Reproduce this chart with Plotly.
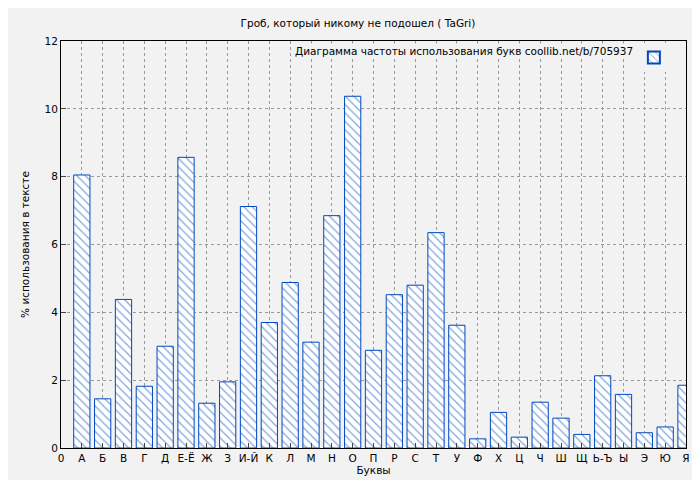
import plotly.graph_objects as go

letters = ["А", "Б", "В", "Г", "Д", "Е-Ё", "Ж", "З", "И-Й", "К", "Л", "М", "Н", "О", "П",
           "Р", "С", "Т", "У", "Ф", "Х", "Ц", "Ч", "Ш", "Щ", "Ь-Ъ", "Ы", "Э", "Ю", "Я"]
percents = [8.05, 1.45, 4.38, 1.82, 3.0, 8.57, 1.32, 1.95, 7.12, 3.7, 4.88, 3.12, 6.85, 10.37, 2.88,
            4.52, 4.8, 6.35, 3.62, 0.27, 1.05, 0.32, 1.35, 0.88, 0.4, 2.13, 1.58, 0.45, 0.62, 1.85]
positions = list(range(1, len(letters) + 1))

blue = "#0048c0"
fig = go.Figure(go.Bar(
    x=positions, y=percents, width=0.78, name=" ",
    marker=dict(color="white", line=dict(color=blue, width=1),
                pattern=dict(shape="\\", fgcolor=blue, bgcolor="white", size=6, solidity=0.2)),
    showlegend=True,
))

axis_common = dict(showline=True, linecolor="black", mirror=True, ticks="inside", automargin=False,
                   showgrid=True, gridcolor="#999999", griddash="dot", zeroline=False,
                   tickfont=dict(size=10.5, color="black"))
fig.update_xaxes(range=[0, 30], tickvals=[0] + positions, ticktext=["0"] + letters,
                 title=dict(text="Буквы", font=dict(size=10.5), standoff=4), **axis_common)
fig.update_yaxes(range=[0, 12], dtick=2,
                 title=dict(text="% использования в тексте", font=dict(size=10.5), standoff=12),
                 **axis_common)

fig.add_annotation(x=0.918, y=0.995, xref="paper", yref="paper", xanchor="right", yanchor="top",
                   text="Диаграмма частоты использования букв coollib.net/b/705937",
                   showarrow=False, font=dict(size=10.5, color="black"), bgcolor="#f2f2f2")

fig.update_layout(
    width=700, height=480,
    title=dict(text="Гроб, который никому не подошел ( TaGri)", x=0.5, y=0.975,
               font=dict(size=10.5, color="black")),
    paper_bgcolor="#f2f2f2", plot_bgcolor="#f2f2f2",
    font=dict(family="DejaVu Sans", color="black"),
    margin=dict(l=53, r=22, t=33, b=40, autoexpand=False),
    legend=dict(x=0.995, y=0.995, xanchor="right", yanchor="top", bgcolor="#f2f2f2",
                font=dict(size=10), itemwidth=30, itemsizing="constant"),
    bargap=0.2,
)

fig.write_html("out.html")
